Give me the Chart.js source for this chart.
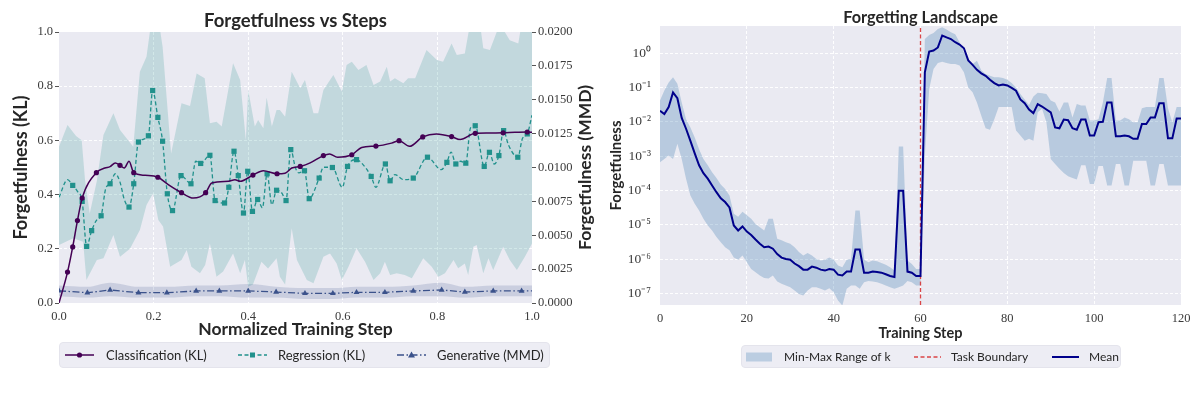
<!DOCTYPE html>
<html>
<head>
<meta charset="utf-8">
<script src="https://cdn.jsdelivr.net/npm/chart.js@4.4.0/dist/chart.umd.min.js"></script>
<style>
  html, body { margin: 0; padding: 0; background: #fff; }
  body { width: 1203px; height: 398px; position: relative; overflow: hidden; font-family: Lato, sans-serif; }
  #left { position: absolute; left: 0; top: 0; }
  #right { position: absolute; left: 600px; top: 0; }
  .legend { position: absolute; background: rgba(234, 234, 242, 0.85); border: 1px solid #e4e4ec; border-radius: 4px; box-sizing: border-box; font-size: 13px; color: #262626; }
  .legend.small { font-size: 12px; }
  .legend svg, .legend span { position: absolute; top: 50%; transform: translateY(-50%); }
  .legend span { white-space: nowrap; line-height: 1; }
</style>
</head>
<body>
<canvas id="left" width="600" height="398"></canvas>
<canvas id="right" width="603" height="398"></canvas>

<div class="legend" style="left:59px; top:342px; width:491px; height:26px;">
  <svg style="left:5px" width="29" height="10"><line x1="0" y1="5" x2="29" y2="5" stroke="#440154" stroke-width="1.5"/><circle cx="14.5" cy="5" r="2.6" fill="#440154"/></svg>
  <span style="left:46px">Classification (KL)</span>
  <svg style="left:178px" width="29" height="10"><line x1="0" y1="5" x2="29" y2="5" stroke="#21918c" stroke-width="1.3" stroke-dasharray="4 2.5"/><rect x="12" y="2.5" width="5" height="5" fill="#21918c"/></svg>
  <span style="left:218px">Regression (KL)</span>
  <svg style="left:337px" width="29" height="10"><line x1="0" y1="5" x2="29" y2="5" stroke="#3b528b" stroke-width="1.3" stroke-dasharray="7 2.5 1.5 2.5"/><polygon points="14.5,1.5 18,7.5 11,7.5" fill="#3b528b"/></svg>
  <span style="left:377px">Generative (MMD)</span>
</div>

<div class="legend small" style="left:741px; top:345px; width:380px; height:23px;">
  <svg style="left:4px" width="26" height="10"><rect x="0" y="0.5" width="26" height="9" fill="rgba(70,130,180,0.3)"/></svg>
  <span style="left:42px">Min-Max Range of k</span>
  <svg style="left:172px" width="27" height="10"><line x1="0" y1="5" x2="27" y2="5" stroke="rgba(214,39,40,0.85)" stroke-width="1.3" stroke-dasharray="4 2.5"/></svg>
  <span style="left:209px">Task Boundary</span>
  <svg style="left:310px" width="27" height="10"><line x1="0" y1="5" x2="27" y2="5" stroke="#00008b" stroke-width="2"/></svg>
  <span style="left:347px">Mean</span>
</div>

<script>
// ---- left panel: forgetfulness vs normalized step ----
const clsX = [0, 0.018, 0.029, 0.039, 0.049, 0.079, 0.097, 0.108, 0.119, 0.129, 0.138, 0.148, 0.158, 0.182, 0.209, 0.231, 0.259, 0.284, 0.31, 0.323, 0.358, 0.372, 0.383, 0.41, 0.432, 0.461, 0.478, 0.492, 0.51, 0.531, 0.559, 0.572, 0.589, 0.619, 0.64, 0.67, 0.703, 0.719, 0.741, 0.769, 0.798, 0.83, 0.848, 0.88, 0.907, 0.939, 0.964, 0.99, 1.0];
const clsY = [0, 0.114, 0.207, 0.304, 0.387, 0.481, 0.498, 0.503, 0.517, 0.508, 0.498, 0.523, 0.481, 0.471, 0.464, 0.437, 0.407, 0.387, 0.407, 0.443, 0.449, 0.455, 0.449, 0.472, 0.488, 0.477, 0.479, 0.498, 0.504, 0.517, 0.544, 0.55, 0.538, 0.547, 0.574, 0.579, 0.59, 0.599, 0.578, 0.613, 0.624, 0.614, 0.603, 0.626, 0.627, 0.628, 0.63, 0.631, 0.63];
const clsMarks = [1, 2, 3, 4, 5, 9, 12, 14, 16, 18, 23, 25, 28, 30, 33, 35, 37, 39, 41, 43, 45, 47];

const regX = [0, 0.018, 0.029, 0.039, 0.049, 0.0585, 0.069, 0.08, 0.089, 0.099, 0.108, 0.119, 0.129, 0.138, 0.148, 0.158, 0.168, 0.189, 0.198, 0.209, 0.219, 0.229, 0.24, 0.258, 0.279, 0.289, 0.2995, 0.319, 0.33, 0.35, 0.359, 0.37, 0.379, 0.39, 0.399, 0.409, 0.42, 0.43, 0.44, 0.45, 0.46, 0.471, 0.48, 0.49, 0.5, 0.507, 0.519, 0.529, 0.55, 0.559, 0.578, 0.599, 0.61, 0.629, 0.64, 0.66, 0.67, 0.69, 0.7, 0.71, 0.729, 0.749, 0.779, 0.808, 0.82, 0.829, 0.839, 0.849, 0.86, 0.87, 0.88, 0.899, 0.91, 0.92, 0.93, 0.94, 0.95, 0.97, 0.98, 0.99, 1.0];
const regY = [0.39, 0.455, 0.434, 0.412, 0.375, 0.209, 0.267, 0.307, 0.322, 0.424, 0.44, 0.477, 0.446, 0.382, 0.354, 0.44, 0.594, 0.617, 0.784, 0.685, 0.597, 0.403, 0.341, 0.47, 0.44, 0.523, 0.515, 0.545, 0.378, 0.369, 0.427, 0.56, 0.47, 0.332, 0.486, 0.338, 0.382, 0.351, 0.477, 0.363, 0.416, 0.406, 0.378, 0.566, 0.498, 0.48, 0.488, 0.385, 0.461, 0.501, 0.5, 0.427, 0.504, 0.529, 0.516, 0.467, 0.427, 0.513, 0.451, 0.474, 0.455, 0.461, 0.538, 0.492, 0.519, 0.557, 0.513, 0.523, 0.516, 0.646, 0.654, 0.504, 0.556, 0.513, 0.544, 0.636, 0.584, 0.538, 0.608, 0.624, 0.693];
const regMarks = [2, 4, 5, 6, 8, 10, 14, 15, 16, 17, 18, 19, 20, 21, 22, 23, 24, 26, 27, 28, 29, 30, 31, 32, 33, 34, 35, 36, 38, 40, 42, 43, 46, 47, 48, 50, 52, 53, 55, 57, 58, 61, 62, 64, 66, 68, 70, 71, 72, 74, 75, 77, 79];

const regHiX = [0, 0.018, 0.036, 0.048, 0.055, 0.065, 0.08, 0.094, 0.115, 0.129, 0.157, 0.171, 0.185, 0.196, 0.21, 0.219, 0.237, 0.259, 0.277, 0.291, 0.308, 0.319, 0.333, 0.344, 0.368, 0.383, 0.395, 0.4, 0.414, 0.421, 0.432, 0.439, 0.45, 0.46, 0.467, 0.478, 0.492, 0.51, 0.52, 0.538, 0.548, 0.559, 0.58, 0.598, 0.608, 0.619, 0.633, 0.65, 0.665, 0.679, 0.693, 0.7, 0.71, 0.728, 0.738, 0.753, 0.777, 0.799, 0.812, 0.83, 0.841, 0.858, 0.869, 0.89, 0.897, 0.911, 0.932, 0.953, 0.971, 0.978, 1.0];
const regHiY = [0.577, 0.657, 0.616, 0.601, 0.454, 0.33, 0.45, 0.62, 0.7, 0.638, 0.577, 0.853, 0.909, 1.05, 1.05, 0.946, 0.552, 0.737, 0.727, 0.847, 0.829, 0.663, 0.669, 0.651, 0.885, 0.823, 0.601, 0.786, 0.651, 0.675, 0.645, 0.758, 0.651, 0.712, 0.712, 0.687, 0.853, 0.792, 0.823, 0.7, 0.7, 0.786, 0.841, 0.78, 0.878, 0.89, 0.86, 0.878, 0.804, 0.817, 0.872, 0.817, 0.829, 0.811, 0.829, 0.829, 0.934, 0.897, 0.89, 0.958, 0.915, 0.921, 1.03, 1.03, 0.94, 0.934, 1.03, 0.97, 0.958, 1.03, 1.05];
const regLoX = [0, 0.03, 0.051, 0.058, 0.08, 0.094, 0.115, 0.129, 0.15, 0.171, 0.185, 0.199, 0.21, 0.22, 0.235, 0.259, 0.27, 0.28, 0.298, 0.309, 0.319, 0.333, 0.347, 0.368, 0.383, 0.393, 0.4, 0.41, 0.428, 0.442, 0.46, 0.467, 0.478, 0.492, 0.503, 0.524, 0.538, 0.559, 0.573, 0.587, 0.598, 0.612, 0.629, 0.647, 0.665, 0.679, 0.689, 0.7, 0.714, 0.731, 0.746, 0.77, 0.788, 0.802, 0.816, 0.834, 0.844, 0.858, 0.865, 0.876, 0.883, 0.897, 0.908, 0.918, 0.939, 0.953, 0.968, 0.985, 1.0];
const regLoY = [0.214, 0.239, 0.226, 0.085, 0.159, 0.165, 0.251, 0.171, 0.2, 0.269, 0.362, 0.405, 0.306, 0.282, 0.134, 0.159, 0.196, 0.134, 0.11, 0.14, 0.22, 0.097, 0.116, 0.183, 0.11, 0.159, 0.06, 0.068, 0.152, 0.127, 0.165, 0.097, 0.068, 0.276, 0.159, 0.085, 0.073, 0.171, 0.183, 0.146, 0.085, 0.134, 0.202, 0.152, 0.085, 0.11, 0.152, 0.103, 0.11, 0.103, 0.091, 0.165, 0.134, 0.097, 0.11, 0.159, 0.128, 0.146, 0.103, 0.208, 0.214, 0.11, 0.165, 0.122, 0.208, 0.159, 0.122, 0.171, 0.22];

const genX = [0, 0.06, 0.108, 0.168, 0.228, 0.29, 0.339, 0.4, 0.459, 0.52, 0.579, 0.629, 0.689, 0.749, 0.809, 0.858, 0.918, 0.978, 1.0];
const genY = [0.0009, 0.00076, 0.00096, 0.00076, 0.00076, 0.00089, 0.00089, 0.00089, 0.00081, 0.00071, 0.00071, 0.00079, 0.00079, 0.00089, 0.00096, 0.00081, 0.00089, 0.00089, 0.00089];
const genHi = [0.0013, 0.0012, 0.0015, 0.0012, 0.0012, 0.0013, 0.0013, 0.0014, 0.0012, 0.0011, 0.0011, 0.0012, 0.0012, 0.0013, 0.0015, 0.0012, 0.0013, 0.0013, 0.0013];
const genLo = [0.0005, 0.0004, 0.0005, 0.0004, 0.0004, 0.0005, 0.0005, 0.0004, 0.0004, 0.0003, 0.0003, 0.0004, 0.0004, 0.0005, 0.0005, 0.0004, 0.0005, 0.0005, 0.0005];

// ---- right panel: forgetting landscape ----
const stepsR = Array.from({ length: 121 }, (_, i) => i);
const meanR = [2.1e-2, 1.7e-2, 2.7e-2, 7.2e-2, 4.9e-2, 1.3e-2, 6.3e-3, 2.8e-3, 1.2e-3, 5.4e-4,
  3.2e-4, 2.2e-4, 1.4e-4, 8.9e-5, 5.9e-5, 4.6e-5, 3.2e-5, 9.5e-6, 6.8e-6, 8.9e-6,
  6.3e-6, 5.0e-6, 3.7e-6, 2.8e-6, 2.2e-6, 2.3e-6, 2.0e-6, 1.4e-6, 1.1e-6, 1.0e-6,
  9.5e-7, 7.4e-7, 6.2e-7, 4.9e-7, 4.9e-7, 6.0e-7, 5.6e-7, 4.9e-7, 4.6e-7, 5.1e-7,
  4.9e-7, 3.5e-7, 3.3e-7, 4.3e-7, 4.3e-7, 1.9e-6, 1.9e-6, 4.0e-7, 4.0e-7, 4.3e-7,
  4.2e-7, 4.0e-7, 3.6e-7, 3.2e-7, 3.0e-7, 9.8e-5, 9.8e-5, 4.3e-7, 4.0e-7, 3.2e-7,
  3.2e-7, 0.28, 1.12, 1.2, 1.48, 3.3, 2.9, 2.6, 2.1, 1.8,
  1.4, 0.62, 0.46, 0.33, 0.26, 0.22, 0.17, 0.135, 0.115, 0.123,
  0.115, 0.098, 0.081, 0.045, 0.035, 0.023, 0.018, 0.033, 0.028, 0.023,
  0.019, 0.0069, 0.0065, 0.0117, 0.0112, 0.0065, 0.0059, 0.0117, 0.0117, 0.004,
  0.004, 0.0098, 0.01, 0.037, 0.037, 0.0038, 0.0038, 0.004, 0.0038, 0.0032,
  0.0032, 0.0087, 0.0087, 0.0135, 0.0135, 0.035, 0.035, 0.0033, 0.0033, 0.0126,
  0.0126];
const maxR = [0.042, 0.082, 0.14, 0.2, 0.13, 0.037, 0.012, 0.0069, 0.0035, 0.0016,
  8.3e-4, 5.4e-4, 3.4e-4, 2.3e-4, 1.5e-4, 1.1e-4, 7.1e-5, 2.1e-5, 1.7e-5, 2.4e-5,
  1.9e-5, 1.5e-5, 1.05e-5, 8.5e-6, 6.8e-6, 1.5e-5, 1.5e-5, 3.9e-6, 3.5e-6, 3.1e-6,
  2.8e-6, 2.2e-6, 1.6e-6, 1.26e-6, 1.5e-6, 1.26e-6, 1.0e-6, 9.1e-7, 9.6e-7, 1.1e-6,
  9.6e-7, 6.5e-7, 5.8e-7, 9.6e-7, 1.0e-6, 2.6e-5, 2.6e-5, 9.6e-7, 8.1e-7, 9.1e-7,
  8.6e-7, 7.6e-7, 6.8e-7, 5.8e-7, 4.6e-7, 1.9e-3, 1.9e-3, 9.1e-7, 7.2e-7, 5.1e-7,
  5.1e-7, 2.6, 3.4, 3.9, 5.1, 5.7, 4.9, 4.1, 3.6, 2.1,
  1.07, 0.61, 0.49, 0.61, 0.32, 0.25, 0.22, 0.2, 0.2, 0.19,
  0.17, 0.135, 0.1, 0.065, 0.045, 0.031, 0.055, 0.071, 0.068, 0.065,
  0.042, 0.037, 0.02, 0.037, 0.037, 0.0135, 0.033, 0.03, 0.03, 0.011,
  0.011, 0.012, 0.037, 0.19, 0.19, 0.011, 0.011, 0.0135, 0.012, 0.0098,
  0.0098, 0.025, 0.027, 0.027, 0.027, 0.19, 0.19, 0.025, 0.0098, 0.027,
  0.027];
const minR = [6.6e-4, 8.3e-4, 1.05e-3, 8.3e-4, 2.3e-3, 8.3e-4, 2.2e-4, 7.1e-5, 4.1e-5, 2.6e-5,
  1.5e-5, 9.5e-6, 6.8e-6, 4.4e-6, 3.1e-6, 2.2e-6, 1.8e-6, 1.1e-6, 9.6e-7, 1.26e-6,
  8.1e-7, 5.1e-7, 4.1e-7, 3.3e-7, 2.8e-7, 2.7e-7, 3.3e-7, 2.2e-7, 1.9e-7, 1.7e-7,
  1.5e-7, 1.2e-7, 9.5e-8, 8.7e-8, 1.2e-7, 1.5e-7, 1.5e-7, 1.35e-7, 1.2e-7, 1.4e-7,
  1.07e-7, 6.2e-8, 4.4e-8, 1.35e-7, 1.7e-7, 1.7e-7, 1.35e-7, 2.1e-7, 2.3e-7, 2.2e-7,
  2.1e-7, 1.9e-7, 1.7e-7, 1.5e-7, 1.35e-7, 1.5e-7, 1.7e-7, 2.3e-7, 2.1e-7, 1.7e-7,
  1.7e-7, 1.05e-3, 0.091, 0.35, 0.52, 0.57, 0.52, 0.49, 0.49, 0.44,
  0.28, 0.1, 0.073, 0.037, 0.015, 0.0065, 0.0059, 0.012, 0.027, 0.027,
  0.027, 0.027, 0.0056, 0.004, 0.0028, 0.0032, 0.0028, 0.019, 0.024, 0.0098,
  8.3e-4, 5.9e-4, 4.3e-4, 3.2e-4, 2.6e-4, 2.3e-4, 2.1e-4, 5.4e-4, 5.4e-4, 1.55e-4,
  1.55e-4, 5.2e-4, 5.2e-4, 1.4e-4, 1.4e-4, 5.9e-4, 5.9e-4, 1.4e-4, 1.4e-4, 7.4e-4,
  7.4e-4, 7.4e-4, 7.4e-4, 1.4e-4, 1.4e-4, 5.9e-4, 5.9e-4, 1.4e-4, 1.4e-4, 1.4e-4,
  1.4e-4];
const taskBoundary = 60;
const logTicks = [1e-7, 1e-6, 1e-5, 1e-4, 1e-3, 1e-2, 1e-1, 1e0];
const yMinR = 4.56e-8, yMaxR = 6.25;

// ---- shared styling ----
const TXT = '#262626';
const tickFont = { family: 'Liberation Serif', size: 12.5 };
const tickColor = '#3a3a3a';
const gridWhite = 'rgba(255,255,255,0.95)';

const pts = (xs, ys) => xs.map((x, i) => ({ x: x, y: ys[i] }));
const radii = (xs, marks, r) => xs.map((_, i) => marks.includes(i) ? r : 0);
const edgeless = (lo, hi) => c => (c.tick && (Math.abs(c.tick.value - lo) < 1e-9 || Math.abs(c.tick.value - hi) < 1e-9)) ? 'transparent' : gridWhite;

const plotBg = {
  id: 'plotBg',
  beforeDraw(chart) {
    const { ctx, chartArea: a } = chart;
    ctx.save();
    ctx.fillStyle = '#eaeaf2';
    ctx.fillRect(a.left, a.top, a.right - a.left, a.bottom - a.top);
    ctx.restore();
  }
};

// title centred over the plot area, plus an optional upward-reading right axis title
const headline = {
  id: 'headline',
  afterDraw(chart, args, o) {
    const { ctx, chartArea: a } = chart;
    ctx.save();
    ctx.fillStyle = TXT;
    ctx.font = o.font;
    ctx.textAlign = 'center';
    ctx.textBaseline = 'alphabetic';
    ctx.fillText(o.text, (a.left + a.right) / 2, o.y);
    if (o.side) {
      ctx.translate(o.sideX, (a.top + a.bottom) / 2);
      ctx.rotate(-Math.PI / 2);
      ctx.font = o.sideFont;
      ctx.textBaseline = 'middle';
      ctx.fillText(o.side, 0, 0);
    }
    ctx.restore();
  }
};

const sup = { '0': '⁰', '1': '¹', '2': '²', '3': '³', '4': '⁴', '5': '⁵', '6': '⁶', '7': '⁷', '8': '⁸', '9': '⁹', '-': '⁻' };

new Chart(document.getElementById('left'), {
  type: 'line',
  data: {
    datasets: [
      {
        label: 'Classification (KL)', data: pts(clsX, clsY), order: 1,
        borderColor: '#440154', backgroundColor: '#440154', borderWidth: 1.5,
        cubicInterpolationMode: 'monotone', pointStyle: 'circle',
        pointRadius: radii(clsX, clsMarks, 2.6), pointBorderWidth: 0, fill: false
      },
      {
        label: 'Regression (KL)', data: pts(regX, regY), order: 2,
        borderColor: '#21918c', backgroundColor: '#21918c', borderWidth: 1.3, borderDash: [4, 2.5],
        cubicInterpolationMode: 'monotone', pointStyle: 'rect',
        pointRadius: radii(regX, regMarks, 3.7), pointBorderWidth: 0, fill: false
      },
      {
        label: 'Generative (MMD)', data: pts(genX, genY), yAxisID: 'y2', order: 3,
        borderColor: '#3b528b', backgroundColor: '#3b528b', borderWidth: 1.3, borderDash: [7, 2.5, 1.5, 2.5],
        pointStyle: 'triangle', pointRadius: genX.map((_, i) => i < genX.length - 1 ? 3.4 : 0),
        pointBorderWidth: 0, fill: false
      },
      {
        label: 'reg-hi', data: pts(regHiX, regHiY), order: 6, fill: 4,
        borderColor: 'transparent', borderWidth: 0, pointRadius: 0,
        backgroundColor: 'rgba(33,145,140,0.2)'
      },
      {
        label: 'reg-lo', data: pts(regLoX, regLoY), order: 7, fill: false,
        borderColor: 'transparent', borderWidth: 0, pointRadius: 0
      },
      {
        label: 'gen-hi', data: pts(genX, genHi), yAxisID: 'y2', order: 4, fill: 6,
        borderColor: 'transparent', borderWidth: 0, pointRadius: 0,
        backgroundColor: 'rgba(59,82,139,0.18)', cubicInterpolationMode: 'monotone'
      },
      {
        label: 'gen-lo', data: pts(genX, genLo), yAxisID: 'y2', order: 5, fill: false,
        borderColor: 'transparent', borderWidth: 0, pointRadius: 0, cubicInterpolationMode: 'monotone'
      }
    ]
  },
  options: {
    responsive: false, animation: false, devicePixelRatio: 1,
    layout: { padding: { top: 32, bottom: 58, left: 0, right: 0 } },
    plugins: {
      legend: { display: false }, tooltip: { enabled: false },
      headline: {
        text: 'Forgetfulness vs Steps', font: 'bold 18.5px Lato', y: 27,
        side: 'Forgetfulness (MMD)', sideFont: 'bold 17.5px Lato', sideX: 585.5
      }
    },
    scales: {
      x: {
        type: 'linear', min: 0, max: 1,
        afterFit: s => { s.height = 37; },
        ticks: { stepSize: 0.2, callback: v => v.toFixed(1), font: tickFont, color: tickColor, padding: 3, maxRotation: 0 },
        grid: { color: edgeless(0, 1), lineWidth: 1, tickColor: 'transparent', tickLength: 3, tickBorderDash: [] },
        border: { display: false, dash: [3, 2] },
        title: { display: true, text: 'Normalized Training Step', color: TXT, font: { family: 'Lato', size: 17.5, weight: 'bold' }, padding: { top: 0, bottom: 0 } }
      },
      y: {
        position: 'left', min: 0, max: 1,
        afterFit: s => { s.width = 59; },
        ticks: { stepSize: 0.2, callback: v => v.toFixed(1), font: tickFont, color: tickColor, padding: 2 },
        grid: { color: edgeless(0, 1), lineWidth: 1, tickColor: '#555', tickLength: 4, tickWidth: 1, tickBorderDash: [] },
        border: { display: false, dash: [3, 2] },
        title: { display: true, text: 'Forgetfulness (KL)', color: TXT, font: { family: 'Lato', size: 18, weight: 'bold' }, padding: { top: 10.5, bottom: 0 } }
      },
      y2: {
        position: 'right', min: 0, max: 0.02,
        afterFit: s => { s.width = 68; },
        ticks: { stepSize: 0.0025, callback: v => v.toFixed(4), font: tickFont, color: tickColor, padding: 2 },
        grid: { drawOnChartArea: false, tickColor: '#555', tickLength: 4, tickWidth: 1, tickBorderDash: [] },
        border: { display: false }
      }
    }
  },
  plugins: [plotBg, headline]
});

new Chart(document.getElementById('right'), {
  type: 'line',
  data: {
    datasets: [
      {
        label: 'Mean', data: pts(stepsR, meanR), order: 1,
        borderColor: '#00008b', borderWidth: 2, pointRadius: 0, fill: false, tension: 0
      },
      {
        label: 'Task Boundary', data: [{ x: taskBoundary, y: yMinR }, { x: taskBoundary, y: yMaxR }], order: 2,
        borderColor: 'rgba(214,39,40,0.85)', borderWidth: 1.3, borderDash: [4, 2.5], pointRadius: 0, fill: false
      },
      {
        label: 'Min-Max Range of k', data: pts(stepsR, maxR), order: 3, fill: 3,
        borderColor: 'transparent', borderWidth: 0, pointRadius: 0,
        backgroundColor: 'rgba(70,130,180,0.3)'
      },
      {
        label: 'min', data: pts(stepsR, minR), order: 4, fill: false,
        borderColor: 'transparent', borderWidth: 0, pointRadius: 0
      }
    ]
  },
  options: {
    responsive: false, animation: false, devicePixelRatio: 1,
    layout: { padding: { top: 26, bottom: 56, left: 0, right: 22 } },
    plugins: {
      legend: { display: false }, tooltip: { enabled: false },
      headline: { text: 'Forgetting Landscape', font: 'bold 16.3px Lato', y: 22.5 }
    },
    scales: {
      x: {
        type: 'linear', min: 0, max: 120,
        afterFit: s => { s.height = 37; },
        ticks: { stepSize: 20, font: tickFont, color: tickColor, padding: 3, maxRotation: 0 },
        grid: { color: edgeless(0, 120), lineWidth: 1, tickColor: 'transparent', tickLength: 3, tickBorderDash: [] },
        border: { display: false, dash: [3, 2] },
        title: { display: true, text: 'Training Step', color: TXT, font: { family: 'Lato', size: 14.5, weight: 'bold' }, padding: { top: 0, bottom: 0 } }
      },
      y: {
        type: 'logarithmic', position: 'left', min: yMinR, max: yMaxR,
        afterFit: s => { s.width = 60; },
        afterBuildTicks: s => { s.ticks = logTicks.map(v => ({ value: v })); },
        ticks: {
          font: { family: 'Liberation Serif', size: 13.5 }, color: tickColor, padding: 9,
          callback: v => '10' + String(Math.round(Math.log10(v))).split('').map(c => sup[c]).join('')
        },
        grid: { color: gridWhite, lineWidth: 1, drawTicks: false },
        border: { display: false, dash: [3, 2] },
        title: { display: true, text: 'Forgetfulness', color: TXT, font: { family: 'Lato', size: 15, weight: 'bold' }, padding: { top: 7, bottom: 0 } }
      }
    }
  },
  plugins: [plotBg, headline]
});
</script>
</body>
</html>
